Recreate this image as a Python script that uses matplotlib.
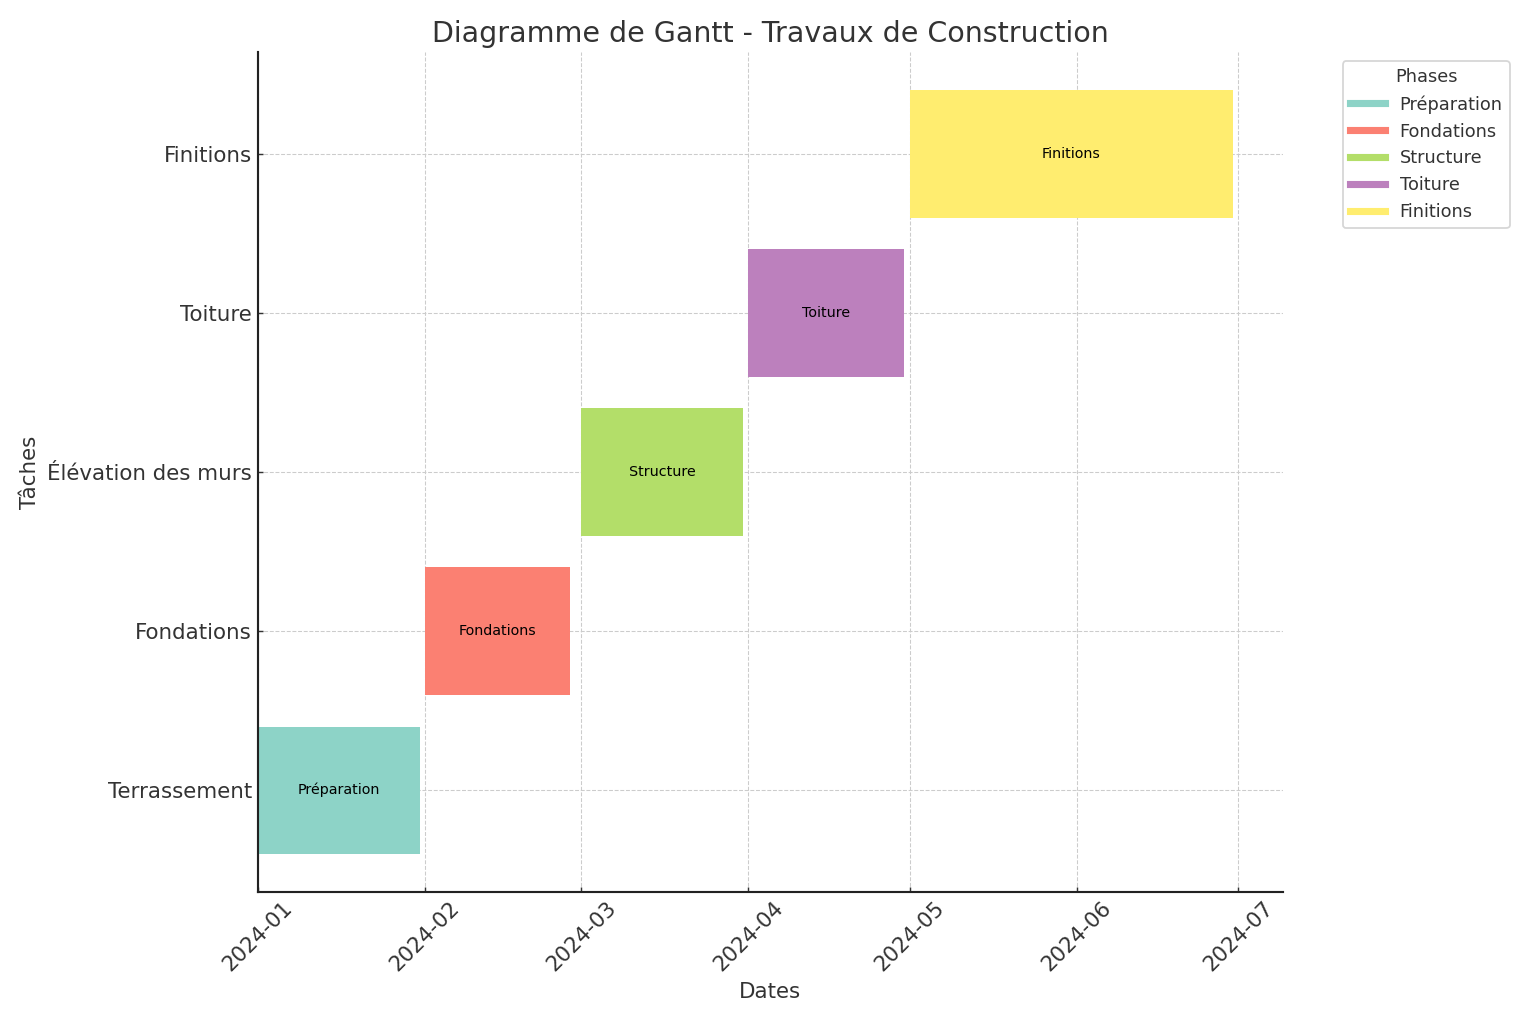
import datetime
import matplotlib
matplotlib.use("Agg")
import matplotlib.pyplot as plt
import matplotlib.dates as mdates
from matplotlib.lines import Line2D

taches = ["Terrassement", "Fondations", "Élévation des murs", "Toiture", "Finitions"]
phases = ["Préparation", "Fondations", "Structure", "Toiture", "Finitions"]
debuts = ["2024-01-01", "2024-02-01", "2024-03-01", "2024-04-01", "2024-05-01"]
fins = ["2024-01-31", "2024-02-28", "2024-03-31", "2024-04-30", "2024-06-30"]
couleurs = ["#8dd3c7", "#fb8072", "#b3de69", "#bc80bd", "#ffed6f"]

txt = "#333333"
plt.rcParams["text.color"] = txt
plt.rcParams["axes.labelcolor"] = txt
plt.rcParams["xtick.color"] = txt
plt.rcParams["ytick.color"] = txt
plt.rcParams["xtick.direction"] = "in"
plt.rcParams["ytick.direction"] = "in"

d0 = [datetime.datetime.strptime(d, "%Y-%m-%d") for d in debuts]
d1 = [datetime.datetime.strptime(d, "%Y-%m-%d") for d in fins]

fig, ax = plt.subplots(figsize=(12, 8), dpi=128)
fig.subplots_adjust(left=0.168, right=0.835, top=0.949, bottom=0.129)

for i in range(len(taches)):
    start = mdates.date2num(d0[i])
    width = mdates.date2num(d1[i]) - start
    ax.barh(i, width, left=start, height=0.8, color=couleurs[i], zorder=2)
    ax.text(start + width / 2, i, phases[i], ha="center", va="center", fontsize=8, color="black", zorder=3)

ax.set_yticks(range(len(taches)))
ax.set_yticklabels(taches, fontsize=12)
ax.set_xlim(datetime.datetime(2024, 1, 1), datetime.datetime(2024, 7, 9, 5))
ax.xaxis.set_major_locator(mdates.MonthLocator())
ax.xaxis.set_major_formatter(mdates.DateFormatter("%Y-%m"))
plt.setp(ax.get_xticklabels(), rotation=45, fontsize=12)
ax.tick_params(length=3, width=0.8)

ax.grid(True, linestyle="--", color="#cccccc", linewidth=0.6, zorder=0)
ax.set_axisbelow(True)
ax.spines["top"].set_visible(False)
ax.spines["right"].set_visible(False)
ax.spines["left"].set_color("#222222")
ax.spines["bottom"].set_color("#222222")
ax.spines["left"].set_linewidth(1.2)
ax.spines["bottom"].set_linewidth(1.2)

ax.set_xlabel("Dates", fontsize=12)
ax.set_ylabel("Tâches", fontsize=12)
ax.set_title("Diagramme de Gantt - Travaux de Construction", fontsize=16)

handles = [Line2D([0], [0], color=c, lw=4) for c in couleurs]
ax.legend(handles, phases, title="Phases", loc="upper left", bbox_to_anchor=(1.05, 1.0), fontsize=10, title_fontsize=10)

plt.savefig("out.png")
